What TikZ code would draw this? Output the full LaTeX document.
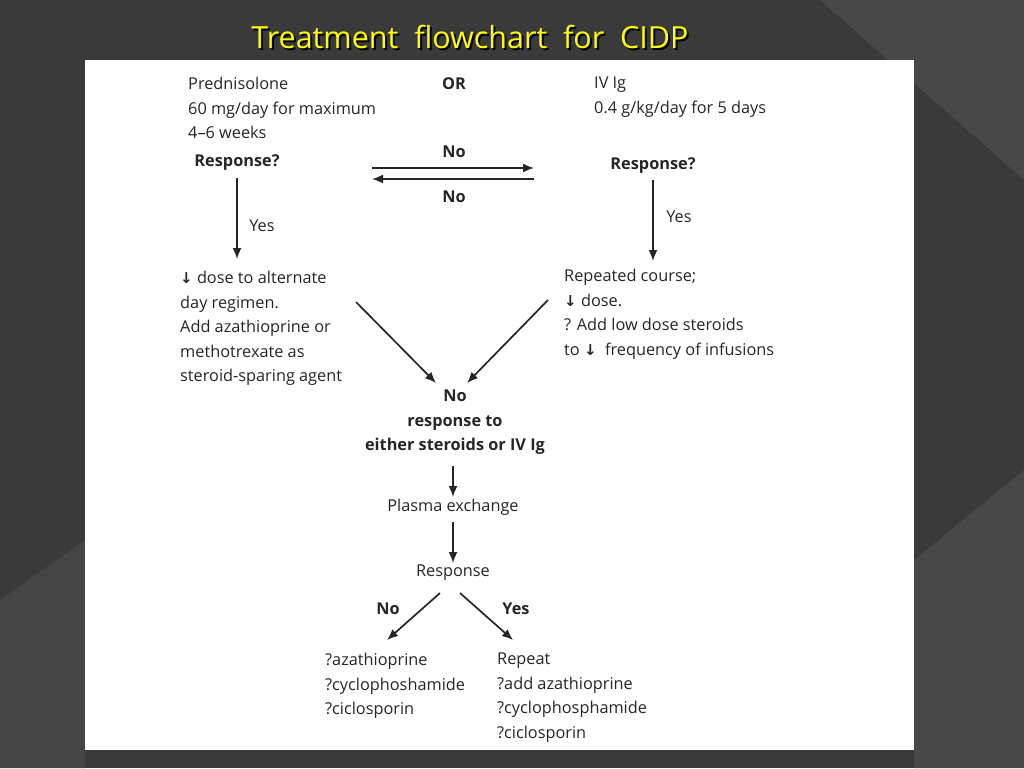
\documentclass[tikz,border=0pt]{standalone}
\usepackage{fontspec}
\setmainfont{Open Sans}
\newfontfamily\symfont{DejaVu Sans}
\usetikzlibrary{arrows,arrows.meta,positioning}
\definecolor{mybg}{RGB}{58,58,58}
\definecolor{mybgband}{RGB}{72,72,72}
\definecolor{mytitle}{RGB}{255,255,0}
\newcommand{\dn}{{\symfont\fontsize{15}{15}\selectfont\bfseries\char"2193}}
\begin{document}
\begin{tikzpicture}[
  x=1pt, y=-1pt,
  txt/.style={font=\fontsize{16.3}{24.5}\selectfont, align=left, anchor=north west, inner sep=0pt, text=black!85},
  bld/.style={txt, font=\fontsize{16.3}{24.5}\selectfont\bfseries},
  arr/.style={-{Latex[length=11pt,width=9pt]}, line width=1.7pt, black!85}
]
\useasboundingbox (0,0) rectangle (1024,768);
% background
\fill[mybg] (0,0) rectangle (1024,768);
\fill[mybgband] (820,0) -- (1024,0) -- (1024,180) -- cycle;
\fill[mybgband] (914,560) -- (1024,470) -- (1024,768) -- (914,768) -- cycle;
\fill[mybgband!80!mybg] (0,600) -- (85,540) -- (85,768) -- (0,768) -- cycle;
\node[font=\fontsize{30.5}{33}\selectfont, text=black] at (472,39) {Treatment\ \ flowchart\ \ for\ \ CIDP};
\node[font=\fontsize{30.5}{33}\selectfont, text=mytitle] (title) at (470,37) {Treatment\ \ flowchart\ \ for\ \ CIDP};
\fill[white] (85,60) rectangle (914,750);

% top row
\node[txt] (pred) at (188,77) {Prednisolone\\60 mg/day for maximum\\4–6 weeks};
\node[bld, anchor=center] (or) at (454,84) {OR};
\node[txt] (ivig) at (594,77) {IV Ig\\0.4 g/kg/day for 5 days};
\node[bld, anchor=center] (resp1) at (237,163) {Response?};
\node[bld, anchor=center] (resp2) at (653,166) {Response?};
\coordinate (nol) at (372,168);
\coordinate (nor) at (534,168);
\coordinate (nol2) at (372,179);
\coordinate (nor2) at (534,179);
\draw[arr] (nol) -- (nor);
\draw[arr] (nor2) -- (nol2);
\node[bld, anchor=center] (no1) at (454,152) {No};
\node[bld, anchor=center] (no2) at (454,197) {No};

% second row
\node[txt] (lbox) at (180,271) {\dn\ dose to alternate\\day regimen.\\Add azathioprine or\\methotrexate as\\steroid-sparing agent};
\node[txt] (rbox) at (564,269) {Repeated course;\\\dn\ dose.\\? Add low dose steroids\\to \dn\ \ frequency of infusions};
\draw[arr] (237,178) -- (237,259);
\draw[arr] (653,180) -- (653,261);
\node[txt, anchor=center] (yes1) at (262,226) {Yes};
\node[txt, anchor=center] (yes2) at (679,217) {Yes};

% merge
\node[bld, anchor=north, align=center] (nores) at (455,390) {No\\response to\\either steroids or IV Ig};
\draw[arr] (356,302) -- (436,383);
\draw[arr] (548,300) -- (467,383);
\node[txt, anchor=center] (plex) at (453,507) {Plasma exchange};
\draw[arr] (453,466) -- (453,497);
\node[txt, anchor=center] (resp3) at (453,573) {Response};
\draw[arr] (453,522) -- (453,563);

% outcome
\draw[arr] (440,593) -- (387,640);
\draw[arr] (460,593) -- (513,640);
\node[bld, anchor=center] (no3) at (388,609) {No};
\node[bld, anchor=center] (yes3) at (516,609) {Yes};
\node[txt] (llist) at (325,653) {?azathioprine\\?cyclophoshamide\\?ciclosporin};
\node[txt] (rlist) at (497,653) {Repeat\\?add azathioprine\\?cyclophosphamide\\?ciclosporin};
\end{tikzpicture}
\end{document}
